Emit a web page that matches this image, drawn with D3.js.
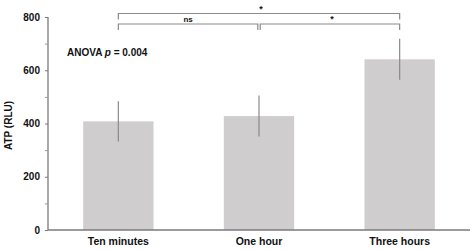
<!DOCTYPE html>
<html><head><meta charset="utf-8">
<script src="https://cdn.jsdelivr.net/npm/d3@7"></script>
<style>body{margin:0;background:#fff}svg{display:block}text{font-family:"Liberation Sans",Arial,sans-serif;font-weight:bold;fill:#111}</style>
</head><body>
<svg id="c" width="474" height="250"></svg>
<script>
const categories = ["Ten minutes", "One hour", "Three hours"];
const means = [408, 428, 641];
const errors = [76, 77, 77];
const yTicks = [0, 200, 400, 600, 800];
const yMinorTicks = [100, 300, 500, 700];
const comparisons = [
  {from: 0, to: 1, label: "ns", level: 0},
  {from: 1, to: 2, label: "*", level: 0},
  {from: 0, to: 2, label: "*", level: 1}
];

const svg = d3.select("#c");
const x = d3.scaleBand().domain(categories).range([48, 470]).paddingInner(0.5).paddingOuter(0.25);
const y = d3.scaleLinear().domain([0, 800]).range([230, 17]);
const axisColor = "#7a7a7a";

svg.selectAll("rect.bar").data(categories).join("rect")
  .attr("x", d => x(d)).attr("width", x.bandwidth())
  .attr("y", (d, i) => y(means[i])).attr("height", (d, i) => y(0) - y(means[i]))
  .attr("fill", "#cfcdcd");

svg.selectAll("line.err").data(categories).join("line")
  .attr("x1", d => x(d) + x.bandwidth() / 2).attr("x2", d => x(d) + x.bandwidth() / 2)
  .attr("y1", (d, i) => y(means[i] + errors[i])).attr("y2", (d, i) => y(means[i] - errors[i]))
  .attr("stroke", "#8a8a8a").attr("stroke-width", 1.2);

const yAxis = d3.axisLeft(y).tickValues(yTicks).tickSize(3).tickPadding(5).tickFormat(d3.format("d"));
const gy = svg.append("g").attr("transform", "translate(48,0)").call(yAxis);
gy.select(".domain").attr("stroke", axisColor).attr("stroke-width", 1.3).attr("d", `M0,${y(0)}V${y(800)}`);
gy.selectAll(".tick line").attr("stroke", axisColor);
gy.selectAll(".tick text").style("font-size", "10px").attr("fill", "#111");
const gym = svg.append("g").attr("transform", "translate(48,0)")
  .call(d3.axisLeft(y).tickValues(yMinorTicks).tickSize(3).tickFormat(""));
gym.select(".domain").remove();
gym.selectAll(".tick line").attr("stroke", "#999");

const gx = svg.append("g").attr("transform", `translate(0,${y(0)})`)
  .call(d3.axisBottom(x).tickSize(0).tickPadding(8));
gx.select(".domain").attr("stroke", axisColor).attr("stroke-width", 1.3).attr("d", "M48,0H470");
gx.selectAll(".tick text").style("font-size", "10.5px").attr("fill", "#111");

svg.append("text").attr("transform", `translate(12,${(y(0) + y(800)) / 2 + 2}) rotate(-90)`)
  .attr("text-anchor", "middle").style("font-size", "10px").text("ATP (RLU)");

const t = svg.append("text").attr("x", 67).attr("y", 56).style("font-size", "10px");
t.append("tspan").text("ANOVA ");
t.append("tspan").style("font-style", "italic").text("p");
t.append("tspan").text(" = 0.004");

const cx = i => x(categories[i]) + x.bandwidth() / 2;
const levelY = [24, 13.5];
const drop = 6;
comparisons.forEach(c => {
  const yy = levelY[c.level];
  let x1 = cx(c.from), x2 = cx(c.to);
  if (c.level === 0) {
    if (c.from === 1) x1 += 1.2; else x2 -= 1.2;
  }
  svg.append("path").attr("d", `M${x1},${yy + drop}V${yy}H${x2}V${yy + drop}`)
    .attr("fill", "none").attr("stroke", "#8a8a8a").attr("stroke-width", 1.2);
  svg.append("text").attr("x", (x1 + x2) / 2 + (c.label === "*" ? 2 : 0)).attr("y", yy - 2)
    .attr("text-anchor", "middle").style("font-size", c.label === "*" ? "9px" : "8px")
    .text(c.label);
});
</script>
</body></html>
